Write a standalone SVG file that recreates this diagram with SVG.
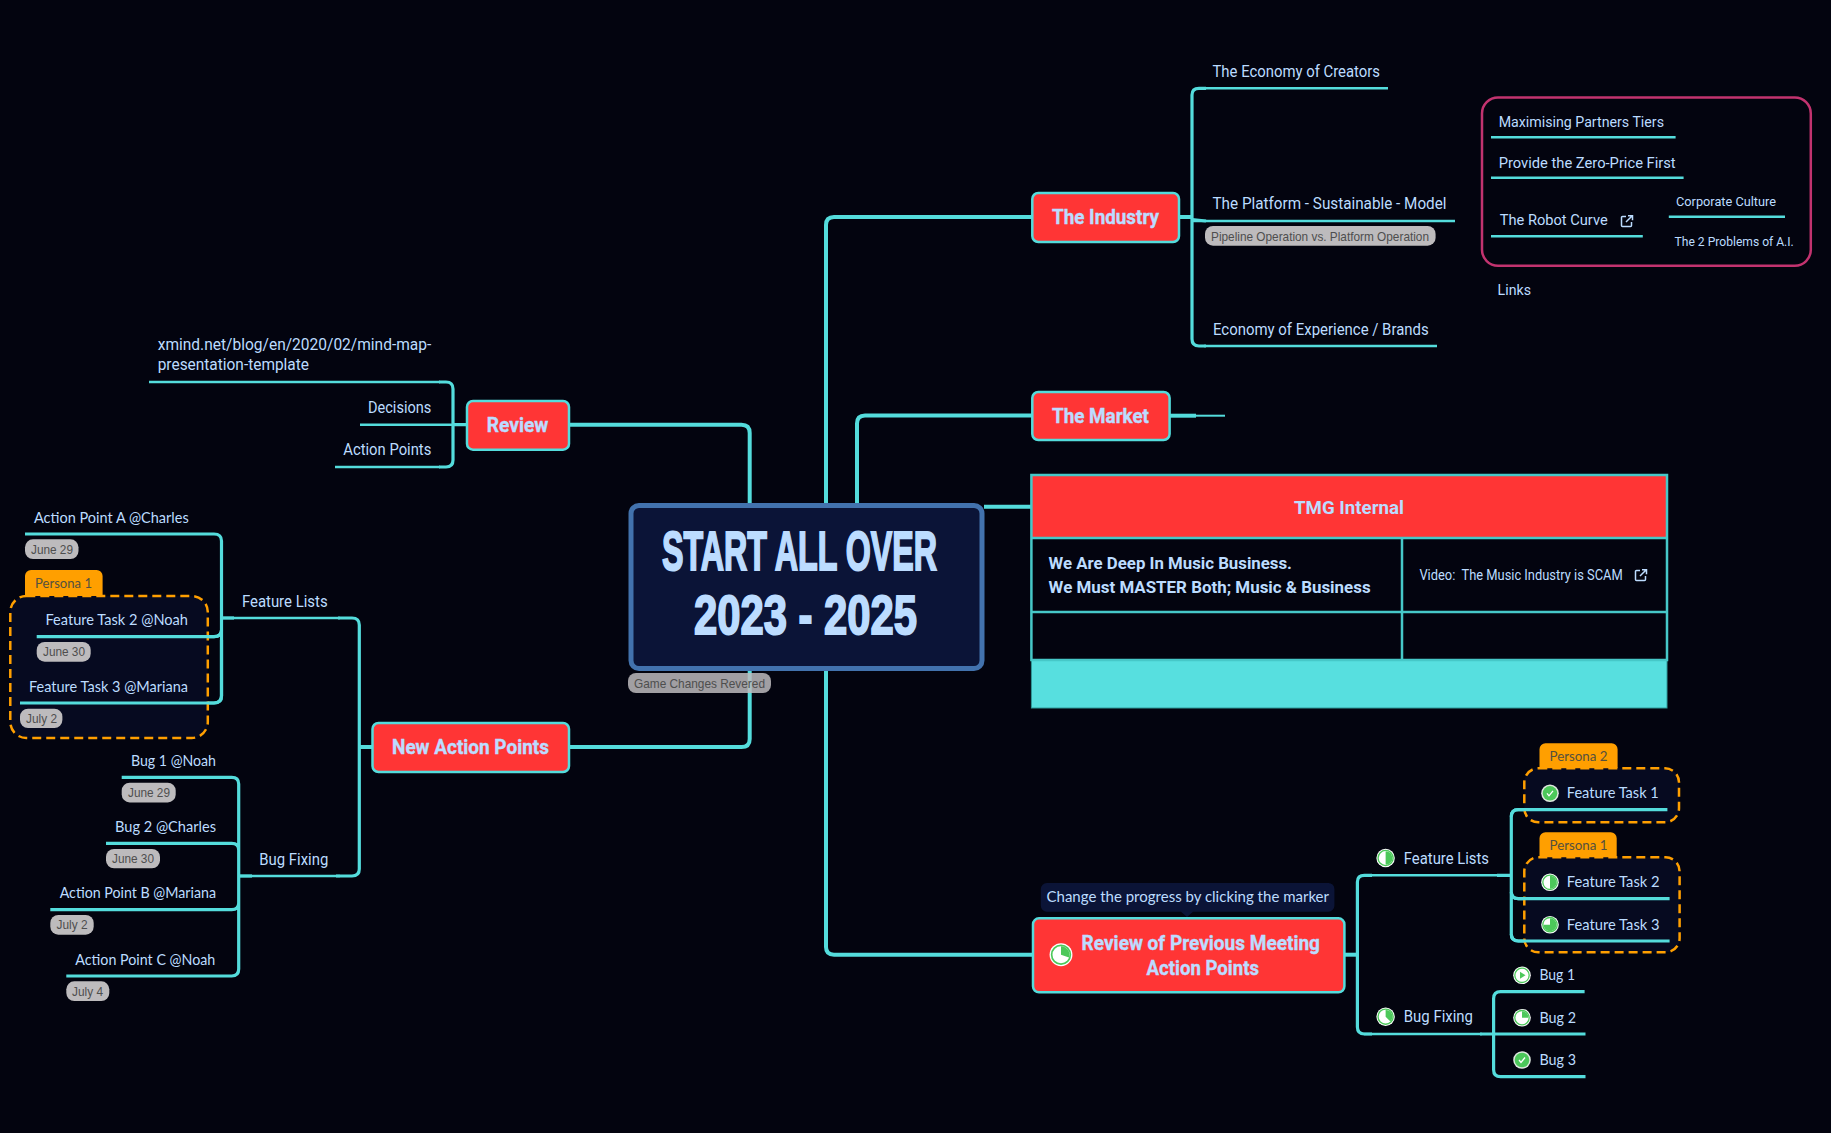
<svg xmlns="http://www.w3.org/2000/svg" width="1831" height="1133" viewBox="0 0 1831 1133">
<style>
text{fill:#bcdcff;font-family:"Roboto","Liberation Sans",sans-serif;font-size:16px}
.r{font-family:"Lato","Liberation Sans",sans-serif}
.b{font-weight:700;font-size:21px;stroke:#bcdcff;stroke-width:.4}
.c{font-family:"Liberation Sans",sans-serif;font-weight:700;font-size:55px;stroke:#bcdcff;stroke-width:2}
.p{fill:#4e4e4e;font-family:"Liberation Sans",sans-serif;font-size:13px}
.pt{fill:#54503f;font-size:14px}
.l{fill:none;stroke:#54dcdc;stroke-width:2.5}
.m{stroke-width:4}
.s{stroke-width:3.2}
.n{fill:#ff3535;stroke:#54dcdc;stroke-width:2.5}
.pill{fill:#bdbbbd}
.d{fill:#060a20;stroke:#ff9f00;stroke-width:2.5;stroke-dasharray:9 5}
.tab{fill:#ff9f00}
.g{fill:#4cc85a}
.w{fill:#fff}
.ring{fill:#fff;stroke:#4cc85a;stroke-width:1.300}
.i{fill:none;stroke:#bcdcff;stroke-width:1.5}
.gr{stroke:#46c8c8;stroke-width:2.5;fill:none}
</style>
<defs>
<g id="ext"><path class="i" d="M5 1.500H1.500A1 1 0 0 0 .5 2.500V10.500A1 1 0 0 0 1.500 11.500H9.500A1 1 0 0 0 10.500 10.500V7M5 7L11 1M7 .8H11.500V5.300"/></g>
<g id="base"><circle r="8.800" class="w"/><circle r="7.200" class="ring"/></g>
<g id="done"><circle r="8.800" fill="#dfe8df"/><circle r="7.300" class="g"/><path d="M-3 0L-1 2.500L3 -2.500" fill="none" stroke="#fff" stroke-width="1.300"/></g>
<g id="half"><use href="#base"/><path class="g" d="M0 -6.500A6.500 6.500 0 0 1 0 6.500Z"/></g>
<g id="start"><use href="#base"/><path class="g" d="M-2 -3.500L3.500 0L-2 3.500Z"/></g>
<g id="q1"><use href="#base"/><path class="g" d="M0 0V-6.500A6.500 6.500 0 0 1 6.500 0Z"/></g>
<g id="q2"><use href="#base"/><path class="g" d="M0 0V-6.500A6.500 6.500 0 0 1 6.100 2.200Z"/></g>
<g id="q3"><use href="#base"/><path class="g" d="M0 0V-6.500A6.500 6.500 0 0 1 4.600 4.600Z"/></g>
<g id="q6"><use href="#base"/><path class="g" d="M0 0V-6.500A6.500 6.500 0 1 1 -6.500 0Z"/></g>
</defs>
<rect width="1831" height="1133" fill="#03040f"/>

<g id="connectors">
<path class="l m" d="M1032 217H834Q826 217 826 225V503"/>
<path class="l m" d="M1032 415.500H865Q857 415.500 857 423.500V503"/>
<path class="l m" d="M569 424.700H741.500Q749.700 424.700 749.700 433V503"/>
<path class="l m" d="M569 747H741.500Q749.700 747 749.700 739V671"/>
<path class="l m" d="M984 506.700H1033"/>
<path class="l m" d="M826 671V947Q826 954.700 834 954.700H1033"/>
<path class="l m" d="M1179 217H1192"/>
<path class="l s" d="M1206 88.300H1199Q1192 88.300 1192 95V339Q1192 346 1199 346H1206"/>
<path class="l" d="M1204 88.300H1388M1192 221H1455M1204 346H1437"/>
<path class="l s" d="M1192 219.500L1206 221"/>
<path class="l m" d="M1170 415.700H1196"/>
<path class="l" d="M1196 415.700H1225" style="stroke-width:2"/>
<path class="l" d="M1491 137.300H1675.600M1491 177.700H1683.600M1491 236.300H1642.800M1668.800 216.700H1785"/>
<path class="l s" d="M467 424.700H453M439 382H446Q453 382 453 389V460Q453 467 446 467H439"/>
<path class="l" d="M149 382H440M360 424.700H453M335 467H440"/>
<path class="l m" d="M372 747H359.300"/>
<path class="l s" d="M338 618H352Q359.300 618 359.300 625V869Q359.300 876 352 876H336"/>
<path class="l" d="M221.500 618H340M238.700 876H340"/>
<path class="l s" d="M221.500 618H234"/>
<path class="l s" d="M238.700 876H252"/>
<path class="l s" d="M25 534H214Q221.500 534 221.500 541V696Q221.500 703 214 703H20M36.700 636.700H214Q221.500 636.700 221.500 630"/>
<path class="l s" d="M121.700 777.300H231.700Q238.700 777.300 238.700 784V969Q238.700 976 231.700 976H66.300M106 843.300H231.700Q238.700 843.300 238.700 850M50.300 909.700H231.700Q238.700 909.700 238.700 903"/>
<path class="l m" d="M1344 954.700H1357.400"/>
<path class="l s" d="M1372 875.300H1364.400Q1357.400 875.300 1357.400 882V1027Q1357.400 1034 1364.400 1034H1372"/>
<path class="l" d="M1364 875.300H1500M1364 1034H1482"/>
<path class="l s" d="M1497 875.300H1511.300M1480 1034H1493.600"/>
<path class="l s" d="M1667.400 809.700H1518.300Q1511.300 809.700 1511.300 816.700V934Q1511.300 941 1518.300 941H1669.600M1511.300 892Q1511.300 898.700 1518.300 898.700H1669.600"/>
<path class="l s" d="M1584.600 991.700H1500.600Q1493.600 991.700 1493.600 998.700V1069.700Q1493.600 1076.700 1500.600 1076.700H1585.500M1493.600 1034H1585.500"/>
</g>

<g id="persona-left">
<path class="tab" d="M25 597V576A6 6 0 0 1 31 570H96.600A6 6 0 0 1 102.600 576V597Z"/>
<text class="r pt" x="35" y="588" textLength="57" lengthAdjust="spacingAndGlyphs">Persona 1</text>
<rect class="d" x="10.300" y="596" width="197.500" height="142" rx="16"/>
<path class="l s" d="M36.700 636.700H214Q221.500 636.700 221.500 630M20 703H214Q221.500 703 221.500 696V640"/>
</g>
<g id="persona-right-2">
<path class="tab" d="M1539.500 769V749.300A6 6 0 0 1 1545.500 743.300H1611.600A6 6 0 0 1 1617.600 749.300V769Z"/>
<text class="r pt" x="1549.500" y="760.700" textLength="58" lengthAdjust="spacingAndGlyphs">Persona 2</text>
<rect class="d" x="1524.300" y="768.300" width="154.700" height="54" rx="14"/>
<path class="l s" d="M1667.400 809.700H1518.300Q1511.300 809.700 1511.300 816.700"/>
</g>
<g id="persona-right-1">
<path class="tab" d="M1539.500 858V838.300A6 6 0 0 1 1545.500 832.300H1610.700A6 6 0 0 1 1616.700 838.300V858Z"/>
<text class="r pt" x="1549.500" y="849.700" textLength="58" lengthAdjust="spacingAndGlyphs">Persona 1</text>
<rect class="d" x="1524.300" y="857.300" width="155.300" height="95" rx="14"/>
<path class="l s" d="M1669.600 898.700H1518.300Q1511.300 898.700 1511.300 892M1669.600 941H1518.300Q1511.300 941 1511.300 934"/>
</g>

<g id="central">
<rect x="631" y="505.500" width="351" height="163" rx="8" fill="#0b1437" stroke="#4272ad" stroke-width="5"/>
<text class="c" x="662" y="569.500" textLength="275" lengthAdjust="spacingAndGlyphs">START ALL OVER</text>
<text class="c" x="694" y="633.500" textLength="223" lengthAdjust="spacingAndGlyphs">2023 - 2025</text>
</g>
<g id="central-label">
<rect class="pill" x="628" y="673" width="143" height="20" rx="8" style="fill-opacity:.85"/>
<text class="p" x="634" y="687.500" textLength="131" lengthAdjust="spacingAndGlyphs">Game Changes Revered</text>
</g>

<g id="industry">
<rect class="n" x="1032.300" y="193" width="146.700" height="49" rx="6"/>
<text class="b" x="1052" y="224" textLength="107" lengthAdjust="spacingAndGlyphs">The Industry</text>
</g>
<g id="economy-creators"><text x="1212.500" y="77" textLength="167.500" lengthAdjust="spacingAndGlyphs">The Economy of Creators</text></g>
<g id="platform">
<text x="1212.500" y="209" textLength="234" lengthAdjust="spacingAndGlyphs">The Platform - Sustainable - Model</text>
<rect class="pill" x="1205" y="226" width="230.600" height="19.700" rx="8"/>
<text class="p" x="1211" y="240.500" textLength="218" lengthAdjust="spacingAndGlyphs">Pipeline Operation vs. Platform Operation</text>
</g>
<g id="economy-experience"><text x="1213" y="334.700" textLength="215.700" lengthAdjust="spacingAndGlyphs">Economy of Experience / Brands</text></g>

<g id="links">
<rect x="1482" y="97.500" width="328.800" height="168.200" rx="16" fill="none" stroke="#c2336f" stroke-width="2.500"/>
<text x="1498.700" y="126.700" textLength="165.300" lengthAdjust="spacingAndGlyphs" style="font-size:15px">Maximising Partners Tiers</text>
<text x="1498.700" y="168" textLength="177" lengthAdjust="spacingAndGlyphs" style="font-size:15px">Provide the Zero-Price First</text>
<text x="1499.700" y="225" textLength="108" lengthAdjust="spacingAndGlyphs" style="font-size:15px">The Robot Curve</text>
<use href="#ext" x="1621" y="215"/>
<text x="1676" y="205.700" textLength="100" lengthAdjust="spacingAndGlyphs" style="font-size:13px">Corporate Culture</text>
<text x="1674.600" y="246" textLength="119.200" lengthAdjust="spacingAndGlyphs" style="font-size:13px">The 2 Problems of A.I.</text>
<text x="1497.600" y="295" textLength="33.400" lengthAdjust="spacingAndGlyphs" style="font-size:15px">Links</text>
</g>

<g id="market">
<rect class="n" x="1032.300" y="392" width="137.300" height="48" rx="6"/>
<text class="b" x="1052" y="422.700" textLength="97" lengthAdjust="spacingAndGlyphs">The Market</text>
</g>

<g id="table">
<rect x="1031.400" y="475" width="635.600" height="63" fill="#ff3535"/>
<rect x="1031.400" y="660" width="635.600" height="48" fill="#57dfdf" stroke="#2f9a9a" stroke-width="1"/>
<path class="gr" d="M1031.400 475H1667V660H1031.400ZM1031.400 538H1667M1031.400 612H1667M1402 538V660"/>
<text x="1294" y="514" textLength="110" lengthAdjust="spacingAndGlyphs" style="font-weight:700;font-size:19px">TMG Internal</text>
<text x="1048.600" y="569" textLength="243.400" lengthAdjust="spacingAndGlyphs" style="font-weight:700;font-size:17px">We Are Deep In Music Business.</text>
<text x="1048.600" y="592.700" textLength="322" lengthAdjust="spacingAndGlyphs" style="font-weight:700;font-size:17px">We Must MASTER Both; Music &amp; Business</text>
<text x="1419.400" y="580" textLength="203.300" lengthAdjust="spacingAndGlyphs" style="font-size:14px;white-space:pre">Video:  The Music Industry is SCAM</text>
<use href="#ext" x="1635" y="569"/>
</g>

<g id="review">
<rect class="n" x="467" y="401" width="102" height="48.700" rx="6"/>
<text class="b" x="486.800" y="431.700" textLength="61.600" lengthAdjust="spacingAndGlyphs">Review</text>
</g>
<g id="xmind"><text x="157.700" y="350" textLength="273.600" lengthAdjust="spacingAndGlyphs">xmind.net/blog/en/2020/02/mind-map-</text><text x="157.700" y="370" textLength="151.300" lengthAdjust="spacingAndGlyphs">presentation-template</text></g>
<g id="decisions"><text x="368" y="413" textLength="63.300" lengthAdjust="spacingAndGlyphs">Decisions</text></g>
<g id="action-points"><text x="343.300" y="455" textLength="88" lengthAdjust="spacingAndGlyphs">Action Points</text></g>

<g id="new-action-points">
<rect class="n" x="372.500" y="723" width="196.500" height="49" rx="6"/>
<text class="b" x="392" y="754" textLength="157" lengthAdjust="spacingAndGlyphs">New Action Points</text>
</g>
<g id="feature-lists"><text x="241.900" y="607" textLength="85.700" lengthAdjust="spacingAndGlyphs">Feature Lists</text></g>
<g id="action-a"><text class="r" x="34" y="523" textLength="154.700" lengthAdjust="spacingAndGlyphs">Action Point A @Charles</text>
<rect class="pill" x="25" y="539.300" width="53.500" height="19.700" rx="8"/><text class="p" x="31" y="553.500" textLength="42" lengthAdjust="spacingAndGlyphs">June 29</text></g>
<g id="task-2"><text class="r" x="45.500" y="625" textLength="142.500" lengthAdjust="spacingAndGlyphs">Feature Task 2 @Noah</text>
<rect class="pill" x="36.700" y="642" width="54" height="19.700" rx="8"/><text class="p" x="43" y="656" textLength="42" lengthAdjust="spacingAndGlyphs">June 30</text></g>
<g id="task-3"><text class="r" x="29" y="692" textLength="159" lengthAdjust="spacingAndGlyphs">Feature Task 3 @Mariana</text>
<rect class="pill" x="20" y="708.700" width="42.400" height="19.300" rx="8"/><text class="p" x="26" y="722.700" textLength="31" lengthAdjust="spacingAndGlyphs">July 2</text></g>

<g id="bug-fixing"><text x="259.300" y="865" textLength="69" lengthAdjust="spacingAndGlyphs">Bug Fixing</text></g>
<g id="bug-1"><text class="r" x="131" y="766" textLength="85" lengthAdjust="spacingAndGlyphs">Bug 1 @Noah</text>
<rect class="pill" x="121.700" y="782.700" width="54" height="19.700" rx="8"/><text class="p" x="128" y="797" textLength="42" lengthAdjust="spacingAndGlyphs">June 29</text></g>
<g id="bug-2"><text class="r" x="115" y="832" textLength="101" lengthAdjust="spacingAndGlyphs">Bug 2 @Charles</text>
<rect class="pill" x="106" y="849" width="54" height="19.300" rx="8"/><text class="p" x="112" y="863" textLength="42" lengthAdjust="spacingAndGlyphs">June 30</text></g>
<g id="action-b"><text class="r" x="59.700" y="898" textLength="156.300" lengthAdjust="spacingAndGlyphs">Action Point B @Mariana</text>
<rect class="pill" x="50.300" y="915" width="43.400" height="19.700" rx="8"/><text class="p" x="56.500" y="929" textLength="31" lengthAdjust="spacingAndGlyphs">July 2</text></g>
<g id="action-c"><text class="r" x="75.300" y="965.300" textLength="140" lengthAdjust="spacingAndGlyphs">Action Point C @Noah</text>
<rect class="pill" x="66.300" y="981.300" width="43" height="19.700" rx="8"/><text class="p" x="72" y="995.500" textLength="31" lengthAdjust="spacingAndGlyphs">July 4</text></g>

<g id="review-meeting">
<path d="M1047 883H1328A6 6 0 0 1 1334.400 889V905.700A6 6 0 0 1 1328 911.700H1193L1187 917L1181 911.700H1047A6 6 0 0 1 1040.800 905.700V889A6 6 0 0 1 1047 883Z" fill="#0b1437"/>
<text class="r" x="1046.500" y="901.700" textLength="282.500" lengthAdjust="spacingAndGlyphs" style="font-size:15px">Change the progress by clicking the marker</text>
<rect class="n" x="1033" y="918.300" width="311.400" height="74" rx="6"/>
<use href="#q2" transform="translate(1061 954.700) scale(1.300)"/>
<text class="b" x="1081.600" y="949.500" textLength="238.400" lengthAdjust="spacingAndGlyphs">Review of Previous Meeting</text>
<text class="b" x="1146.600" y="975" textLength="112.400" lengthAdjust="spacingAndGlyphs">Action Points</text>
</g>
<g id="r-feature-lists"><use href="#half" transform="translate(1385.600 858) scale(1.050)"/><text x="1403.800" y="864" textLength="85.200" lengthAdjust="spacingAndGlyphs">Feature Lists</text></g>
<g id="r-bug-fixing"><use href="#q3" transform="translate(1385.600 1016.700) scale(1.050)"/><text x="1403.800" y="1021.700" textLength="69.200" lengthAdjust="spacingAndGlyphs">Bug Fixing</text></g>
<g id="r-task-1"><use href="#done" x="1550" y="793.300"/><text class="r" x="1566.800" y="798" textLength="92" lengthAdjust="spacingAndGlyphs">Feature Task 1</text></g>
<g id="r-task-2"><use href="#half" x="1550" y="882.300"/><text class="r" x="1566.800" y="887" textLength="92.800" lengthAdjust="spacingAndGlyphs">Feature Task 2</text></g>
<g id="r-task-3"><use href="#q6" x="1550" y="924.700"/><text class="r" x="1566.800" y="930" textLength="92.800" lengthAdjust="spacingAndGlyphs">Feature Task 3</text></g>
<g id="r-bug-1"><use href="#start" x="1522" y="975.300"/><text class="r" x="1539.500" y="980" textLength="35.500" lengthAdjust="spacingAndGlyphs">Bug 1</text></g>
<g id="r-bug-2"><use href="#q1" x="1522" y="1017.700"/><text class="r" x="1539.500" y="1022.700" textLength="36.500" lengthAdjust="spacingAndGlyphs">Bug 2</text></g>
<g id="r-bug-3"><use href="#done" x="1522" y="1060"/><text class="r" x="1539.500" y="1065" textLength="36.500" lengthAdjust="spacingAndGlyphs">Bug 3</text></g>
</svg>
